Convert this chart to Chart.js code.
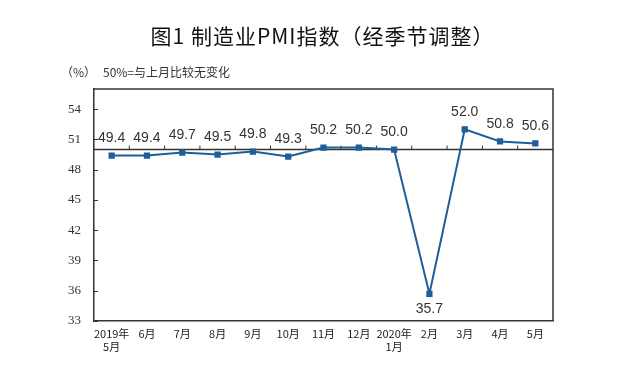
<!DOCTYPE html>
<html>
<head>
<meta charset="utf-8">
<title>制造业PMI指数</title>
<script src="https://cdn.jsdelivr.net/npm/chart.js@4.4.1/dist/chart.umd.min.js"></script>
<style>
    body { margin: 0; background: #fff; }
    #wrap { position: relative; width: 640px; height: 375px; }
    #title {
        position: absolute; left: 5px; top: 21px; width: 635px;
        text-align: center; font: 21px "Noto Sans CJK SC"; line-height: 28px; color: #111;
        letter-spacing: 1px;
    }
    .sub { position: absolute; top: 64px; font: 12px "Noto Sans CJK SC"; line-height: 16px; color: #333; }
    canvas { position: absolute; left: 0; top: 0; }
</style>
</head>
<body>
<div id="wrap">
    <canvas id="pmiChart" width="640" height="375"></canvas>
    <div id="title">图1 制造业PMI指数（经季节调整）</div>
    <div class="sub" style="left:61px">（%）</div>
    <div class="sub" style="left:103px">50%=与上月比较无变化</div>
</div>
<script>
// Data
const months = [['2019年', '5月'], '6月', '7月', '8月', '9月', '10月', '11月', '12月',
    ['2020年', '1月'], '2月', '3月', '4月', '5月'];
const pmiValues = [49.4, 49.4, 49.7, 49.5, 49.8, 49.3, 50.2, 50.2, 50.0, 35.7, 52.0, 50.8, 50.6];
const yTicks = [33, 36, 39, 42, 45, 48, 51, 54];
const yMin = 33;
const yMax = 56;
const baseline = 50;

const lineColor = '#1f5e9c';
const axisColor = '#333';

// Frame, inward y ticks, 50 line with tick marks
const framePlugin = {
    id: 'frame',
    beforeDatasetsDraw(chart) {
        const { ctx, chartArea: a, scales: { x, y } } = chart;
        ctx.save();
        ctx.strokeStyle = axisColor;
        ctx.lineWidth = 1.5;
        ctx.beginPath();
        ctx.moveTo(a.left, a.top);
        ctx.lineTo(a.right, a.top);
        ctx.lineTo(a.right, a.bottom);
        ctx.stroke();

        const y50 = y.getPixelForValue(baseline);
        ctx.beginPath();
        ctx.moveTo(a.left, y50);
        ctx.lineTo(a.right, y50);
        ctx.stroke();

        ctx.lineWidth = 1;
        ctx.beginPath();
        for (let i = 1; i < months.length; i++) {
            const bx = (x.getPixelForValue(i - 1) + x.getPixelForValue(i)) / 2;
            ctx.moveTo(bx, y50);
            ctx.lineTo(bx, y50 - 4);
        }
        yTicks.forEach(v => {
            const ty = Math.round(y.getPixelForValue(v)) + 0.5;
            ctx.moveTo(a.left, ty);
            ctx.lineTo(a.left + 4, ty);
        });
        ctx.stroke();
        ctx.restore();
    }
};

// Value labels
const valueLabels = {
    id: 'valueLabels',
    afterDatasetsDraw(chart) {
        const { ctx } = chart;
        const meta = chart.getDatasetMeta(0);
        ctx.save();
        ctx.font = '14px "Liberation Sans", Arial, sans-serif';
        ctx.fillStyle = '#333';
        ctx.textAlign = 'center';
        ctx.textBaseline = 'middle';
        meta.data.forEach((pt, i) => {
            const v = pmiValues[i];
            const ly = v < baseline - 5 ? pt.y + 15 : pt.y - 17;
            ctx.fillText(v.toFixed(1), pt.x, ly);
        });
        ctx.restore();
    }
};

new Chart(document.getElementById('pmiChart'), {
    type: 'line',
    data: {
        labels: months,
        datasets: [{
            data: pmiValues,
            borderColor: lineColor,
            borderWidth: 2,
            pointStyle: 'rect',
            pointRadius: 3,
            pointBackgroundColor: lineColor,
            pointBorderColor: lineColor,
            tension: 0
        }]
    },
    options: {
        responsive: false,
        animation: false,
        devicePixelRatio: 1,
        layout: { padding: { top: 89, right: 87, left: 0, bottom: 0 } },
        plugins: {
            legend: { display: false },
            tooltip: { enabled: false }
        },
        scales: {
            x: {
                offset: true,
                grid: { drawOnChartArea: false, drawTicks: false },
                border: { color: axisColor, width: 1.5 },
                ticks: {
                    autoSkip: false,
                    maxRotation: 0,
                    padding: 6,
                    color: '#222',
                    font: { family: '"Noto Sans CJK SC"', size: 11, lineHeight: 1.2 }
                },
                afterFit(scale) { scale.height = 54; }
            },
            y: {
                min: yMin,
                max: yMax,
                grid: { drawOnChartArea: false, drawTicks: false },
                border: { color: axisColor, width: 1.5 },
                ticks: {
                    padding: 13,
                    color: '#333',
                    font: { family: '"Liberation Serif", serif', size: 13 }
                },
                afterBuildTicks(scale) {
                    scale.ticks = yTicks.map(v => ({ value: v }));
                },
                afterFit(scale) { scale.width = 94; }
            }
        }
    },
    plugins: [framePlugin, valueLabels]
});
</script>
</body>
</html>
